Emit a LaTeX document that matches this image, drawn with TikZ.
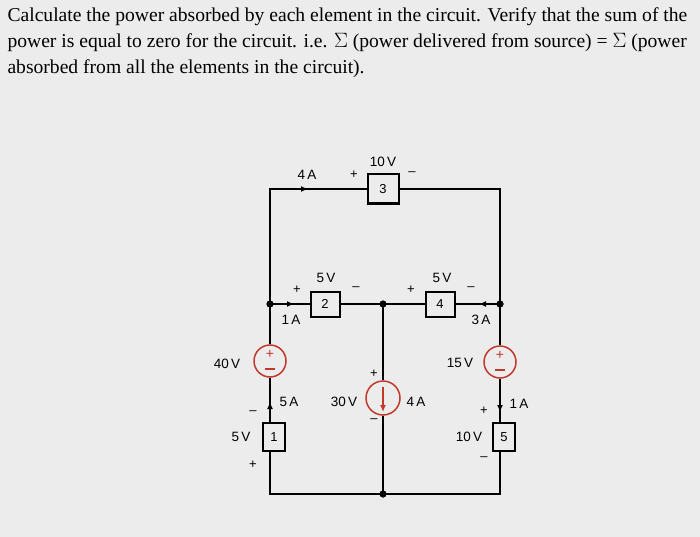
\documentclass[tikz,border=0pt]{standalone}
\usepackage{fontspec}
\setmainfont{Liberation Serif}
\newfontfamily\cf{Liberation Sans}
\usetikzlibrary{arrows.meta}
\definecolor{bg}{HTML}{ECECEC}
\definecolor{src}{HTML}{C0392B}
\begin{document}
\begin{tikzpicture}[x=1pt,y=-1pt,
  wire/.style={line width=2.3pt,black},
  box/.style={draw,line width=2pt,fill=bg,minimum width=22pt,minimum height=28pt,inner sep=0pt,font=\cf\fontsize{13}{14}\selectfont},
  hbox/.style={box,minimum width=29pt,minimum height=25pt},
  vs/.style={circle,draw=src,line width=1.5pt,fill=bg,minimum size=32pt,inner sep=0pt},
  lab/.style={font=\cf\fontsize{13.5}{14}\selectfont},
  pm/.style={font=\cf\fontsize{13}{14}\selectfont},
  dot/.style={circle,fill=black,inner sep=0pt,minimum size=7pt},
  tip/.style={-{Latex[length=7pt,width=6pt]}}]
\fill[bg] (0,0) rectangle (700,537);
\useasboundingbox (0,0) rectangle (700,537);
\node[anchor=base west,font=\fontsize{19.6}{22}\selectfont] at (4,22) {Calculate the power absorbed by each element in the circuit. Verify that the sum of the};
\node[anchor=base west,font=\fontsize{19.6}{22}\selectfont] at (4,48) {power is equal to zero for the circuit. i.e. $\Sigma$ (power delivered from source) = $\Sigma$ (power};
\node[anchor=base west,font=\fontsize{19.6}{22}\selectfont] at (4,74) {absorbed from all the elements in the circuit).};
% coordinates
\coordinate (TL) at (270,189); \coordinate (TR) at (500,189);
\node[dot] (ML) at (270,304) {}; \node[dot] (MM) at (383,304) {}; \node[dot] (MR) at (500,304) {};
\coordinate (BL) at (270,494); \node[dot] (BM) at (383,494) {}; \coordinate (BR) at (500,494);
\node[box,minimum width=31pt,minimum height=29pt] (b3) at (383,189) {3};
\node[hbox] (b2) at (325,304) {2};
\node[hbox] (b4) at (440,304) {4};
\node[box,anchor=west] (b1) at (262,437) {1};
\node[box,anchor=west] (b5) at (492,437) {5};
\node[vs] (s40) at (270,361) {};
\node[vs] (s15) at (500,362) {};
\node[vs,minimum size=34pt] (cs) at (383,398) {};
% wires
\draw[wire] (b3.west) -- (TL) -- (ML.center) -- (b2.west);
\draw[wire] (b3.east) -- (TR) -- (MR.center) -- (b4.east);
\draw[wire] (b2.east) -- (MM.center) -- (b4.west);
\draw[wire] (ML.center) -- (s40.north);
\draw[wire] (s40.south) -- (270,423);
\draw[wire] (270,451) -- (BL) -- (BM.center) -- (BR) -- (500,451);
\draw[wire] (MR.center) -- (s15.north);
\draw[wire] (s15.south) -- (500,423);
\draw[wire] (MM.center) -- (cs.north);
\draw[wire] (cs.south) -- (BM.center);
\node[dot] at (ML) {}; \node[dot] at (MM) {}; \node[dot] at (MR) {}; \node[dot] at (BM) {};
% sign glyphs
\node[src,font=\cf\fontsize{14}{14}\selectfont] at (270,354) {+};
\draw[src,line width=1.2pt] (265,369) -- (275,369);
\node[src,font=\cf\fontsize{14}{14}\selectfont] at (500,355) {+};
\draw[src,line width=1.2pt] (495,370) -- (505,370);
\draw[src,line width=1.5pt,-{Latex[length=7pt,width=6pt]}] (383,387) -- (383,412);
% arrows
\draw[tip,line width=1.6pt] (299,189) -- (308,189);
\draw[tip,line width=1.6pt] (285,304) -- (294,304);
\draw[tip,line width=1.6pt] (488,304) -- (479,304);
\draw[tip,line width=1.6pt] (270,412) -- (270,402);
\draw[tip,line width=1.6pt] (500,402) -- (500,412);
% labels
\node[lab] at (307,175) {4\,A};
\node[lab] at (383,162) {10\,V};
\node[pm] at (354,175) {+}; \node[pm] at (412,174) {–};
\node[lab] at (326,278) {5\,V};
\node[pm] at (297,290) {+}; \node[pm] at (356,289) {–};
\node[lab] at (291,320) {1\,A};
\node[lab] at (442,278) {5\,V};
\node[pm] at (411,290) {+}; \node[pm] at (471,289) {–};
\node[lab] at (481,320) {3\,A};
\node[lab] at (227,364) {40\,V};
\node[lab] at (460,363) {15\,V};
\node[lab] at (289,402) {5\,A};
\node[lab] at (344,402) {30\,V};
\node[lab] at (416,402) {4\,A};
\node[pm] at (374,374) {+}; \node[pm] at (374,421) {–};
\node[lab] at (519,404) {1\,A};
\node[pm] at (484,411) {+}; \node[pm] at (484,459) {–};
\node[lab] at (241,437) {5\,V};
\node[pm] at (253,413) {–}; \node[pm] at (253,465) {+};
\node[lab] at (469,437) {10\,V};
\end{tikzpicture}
\end{document}
